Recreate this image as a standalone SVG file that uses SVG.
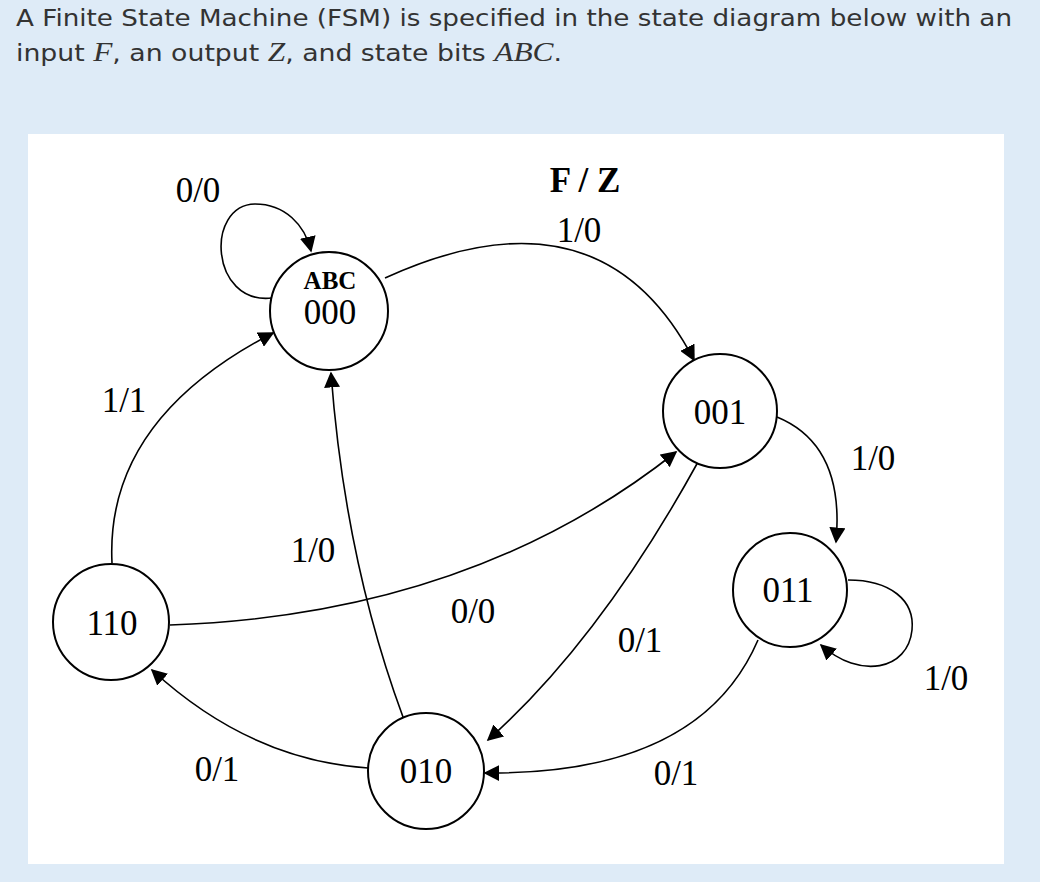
<svg xmlns="http://www.w3.org/2000/svg" width="1040" height="882" viewBox="0 0 1040 882">
<defs>
<marker id="a" viewBox="0 0 10 10" refX="9" refY="5" markerWidth="16" markerHeight="16" markerUnits="userSpaceOnUse" orient="auto"><path d="M0,0 L10,5 L0,10 z" fill="#000"/></marker>
</defs>
<style>
.hdr{font-family:"DejaVu Sans","Liberation Sans",sans-serif;font-size:23px;fill:#333}
.m{font-family:"Liberation Serif",serif;font-style:italic}
.lb{font-family:"Liberation Serif",serif;font-size:35px;fill:#000;text-anchor:middle}
.st{fill:#fff;stroke:#000;stroke-width:2}
.e{fill:none;stroke:#000;stroke-width:1.6;marker-end:url(#a)}
</style>
<rect width="1040" height="882" fill="#deebf7"/>
<text class="hdr" x="16" y="26" textLength="996" lengthAdjust="spacingAndGlyphs">A Finite State Machine (FSM) is specified in the state diagram below with an</text>
<text class="hdr" x="16" y="61" textLength="546" lengthAdjust="spacingAndGlyphs">input <tspan class="m" font-size="27">F</tspan>, an output <tspan class="m" font-size="27">Z</tspan>, and state bits <tspan class="m" font-size="27">ABC</tspan>.</text>
<rect x="28" y="134" width="976" height="730" fill="#fff"/>
<g id="connectors">
<path class="e" d="M272,298 C210,305 205,205 255,204 C285,204 305,225 311,251"/>
<path class="e" d="M385,278 Q600,180 694,360"/>
<path class="e" d="M777,417 Q845,445 836,542"/>
<path class="e" d="M848,580 C890,580 915,600 912,630 C908,670 860,680 821,645"/>
<path class="e" d="M758,640 Q700,775 485,773"/>
<path class="e" d="M698,462 Q600,640 488,740"/>
<path class="e" d="M170,625 Q470,615 676,452"/>
<path class="e" d="M403,717 Q345,560 331,373"/>
<path class="e" d="M368,768 Q250,760 152,670"/>
<path class="e" d="M112,563 Q105,420 273,333"/>
</g>
<g id="n000"><circle class="st" cx="329" cy="311" r="59"/><text x="330" y="289" font-family="Liberation Serif,serif" font-weight="bold" font-size="25" text-anchor="middle">ABC</text><text class="lb" x="330" y="324">000</text></g>
<g id="n001"><circle class="st" cx="720" cy="411" r="57"/><text class="lb" x="720" y="424">001</text></g>
<g id="n011"><circle class="st" cx="790" cy="590" r="57"/><text class="lb" x="788" y="602">011</text></g>
<g id="n110"><circle class="st" cx="111" cy="622" r="58"/><text class="lb" x="112" y="635">110</text></g>
<g id="n010"><circle class="st" cx="426" cy="771" r="58"/><text class="lb" x="426" y="783">010</text></g>
<g id="labels">
<text class="lb" x="198" y="202">0/0</text>
<text class="lb" x="585" y="192" font-weight="bold">F / Z</text>
<text class="lb" x="579" y="242">1/0</text>
<text class="lb" x="124" y="412">1/1</text>
<text class="lb" x="873" y="470">1/0</text>
<text class="lb" x="313" y="562">1/0</text>
<text class="lb" x="473" y="623">0/0</text>
<text class="lb" x="640" y="652">0/1</text>
<text class="lb" x="946" y="690">1/0</text>
<text class="lb" x="217" y="781">0/1</text>
<text class="lb" x="676" y="785">0/1</text>
</g>
</svg>
